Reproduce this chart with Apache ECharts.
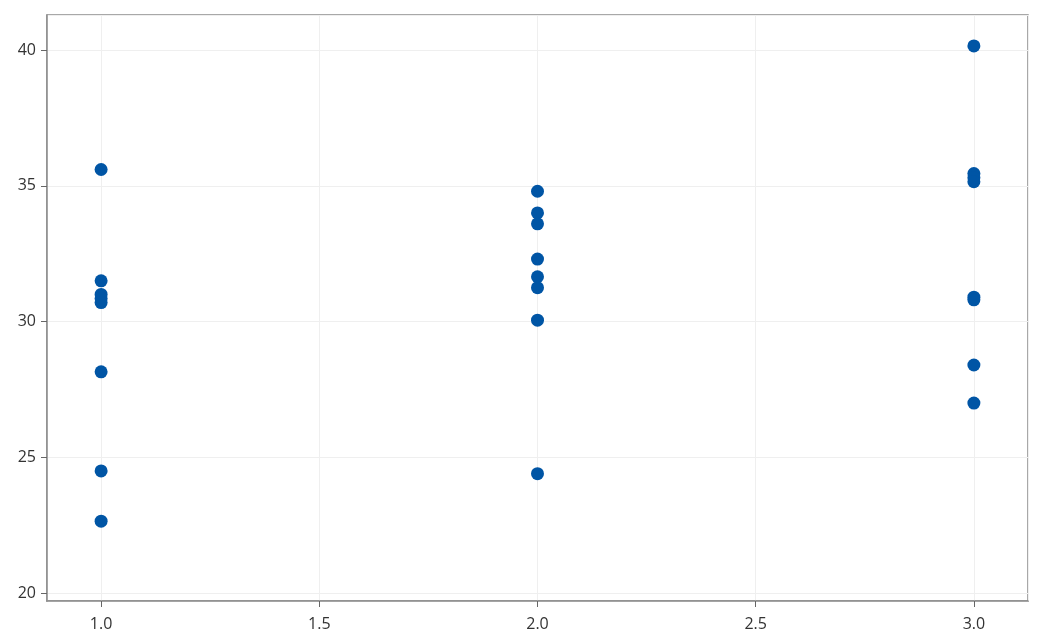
<!DOCTYPE html>
<html><head><meta charset="utf-8">
<script src="https://cdn.jsdelivr.net/npm/echarts@6/dist/echarts.min.js"></script>
<style>html,body{margin:0;padding:0;background:#fff}#c{width:1049px;height:643px}</style>
</head><body><div id="c"></div>
<script>
const groups = [1, 2, 3];
const group1Values = [35.6, 31.5, 31.0, 30.85, 30.7, 28.15, 24.5, 22.65];
const group2Values = [34.8, 34.0, 33.6, 32.3, 31.65, 31.25, 30.05, 24.4];
const group3Values = [40.15, 35.45, 35.3, 35.15, 30.9, 30.8, 28.4, 27.0];
const allValues = [group1Values, group2Values, group3Values];

const points = [];
groups.forEach((g, i) => allValues[i].forEach(v => points.push([g, v])));

const chart = echarts.init(document.getElementById('c'));
const labelStyle = {color: '#333', fontSize: 16, fontFamily: 'Open Sans'};
chart.setOption({
  animation: false,
  grid: {left: 47, right: 21, top: 15, bottom: 42, show: true, borderColor: '#8c8c8c', borderWidth: 1.5},
  xAxis: {
    type: 'value', min: 0.876, max: 3.124, splitNumber: 5,
    axisLine: {show: true, lineStyle: {color: '#8c8c8c', width: 1.5}},
    axisTick: {show: true, length: 6, lineStyle: {color: '#666'}},
    axisLabel: {...labelStyle, margin: 15, showMinLabel: false, showMaxLabel: false, formatter: v => v.toFixed(1)},
    splitLine: {show: true, lineStyle: {color: '#efefef', width: 1}}
  },
  yAxis: {
    type: 'value', min: 19.71, max: 41.29, splitNumber: 5,
    axisLine: {show: true, lineStyle: {color: '#8c8c8c', width: 1.5}},
    axisTick: {show: true, length: 6, lineStyle: {color: '#666'}},
    axisLabel: {...labelStyle, margin: 11, showMinLabel: false, showMaxLabel: false, formatter: v => String(Math.round(v))},
    splitLine: {show: true, lineStyle: {color: '#efefef', width: 1}}
  },
  series: [{
    type: 'scatter', data: points, symbolSize: 13,
    itemStyle: {color: '#0055a5', opacity: 1}
  }]
});
</script></body></html>
